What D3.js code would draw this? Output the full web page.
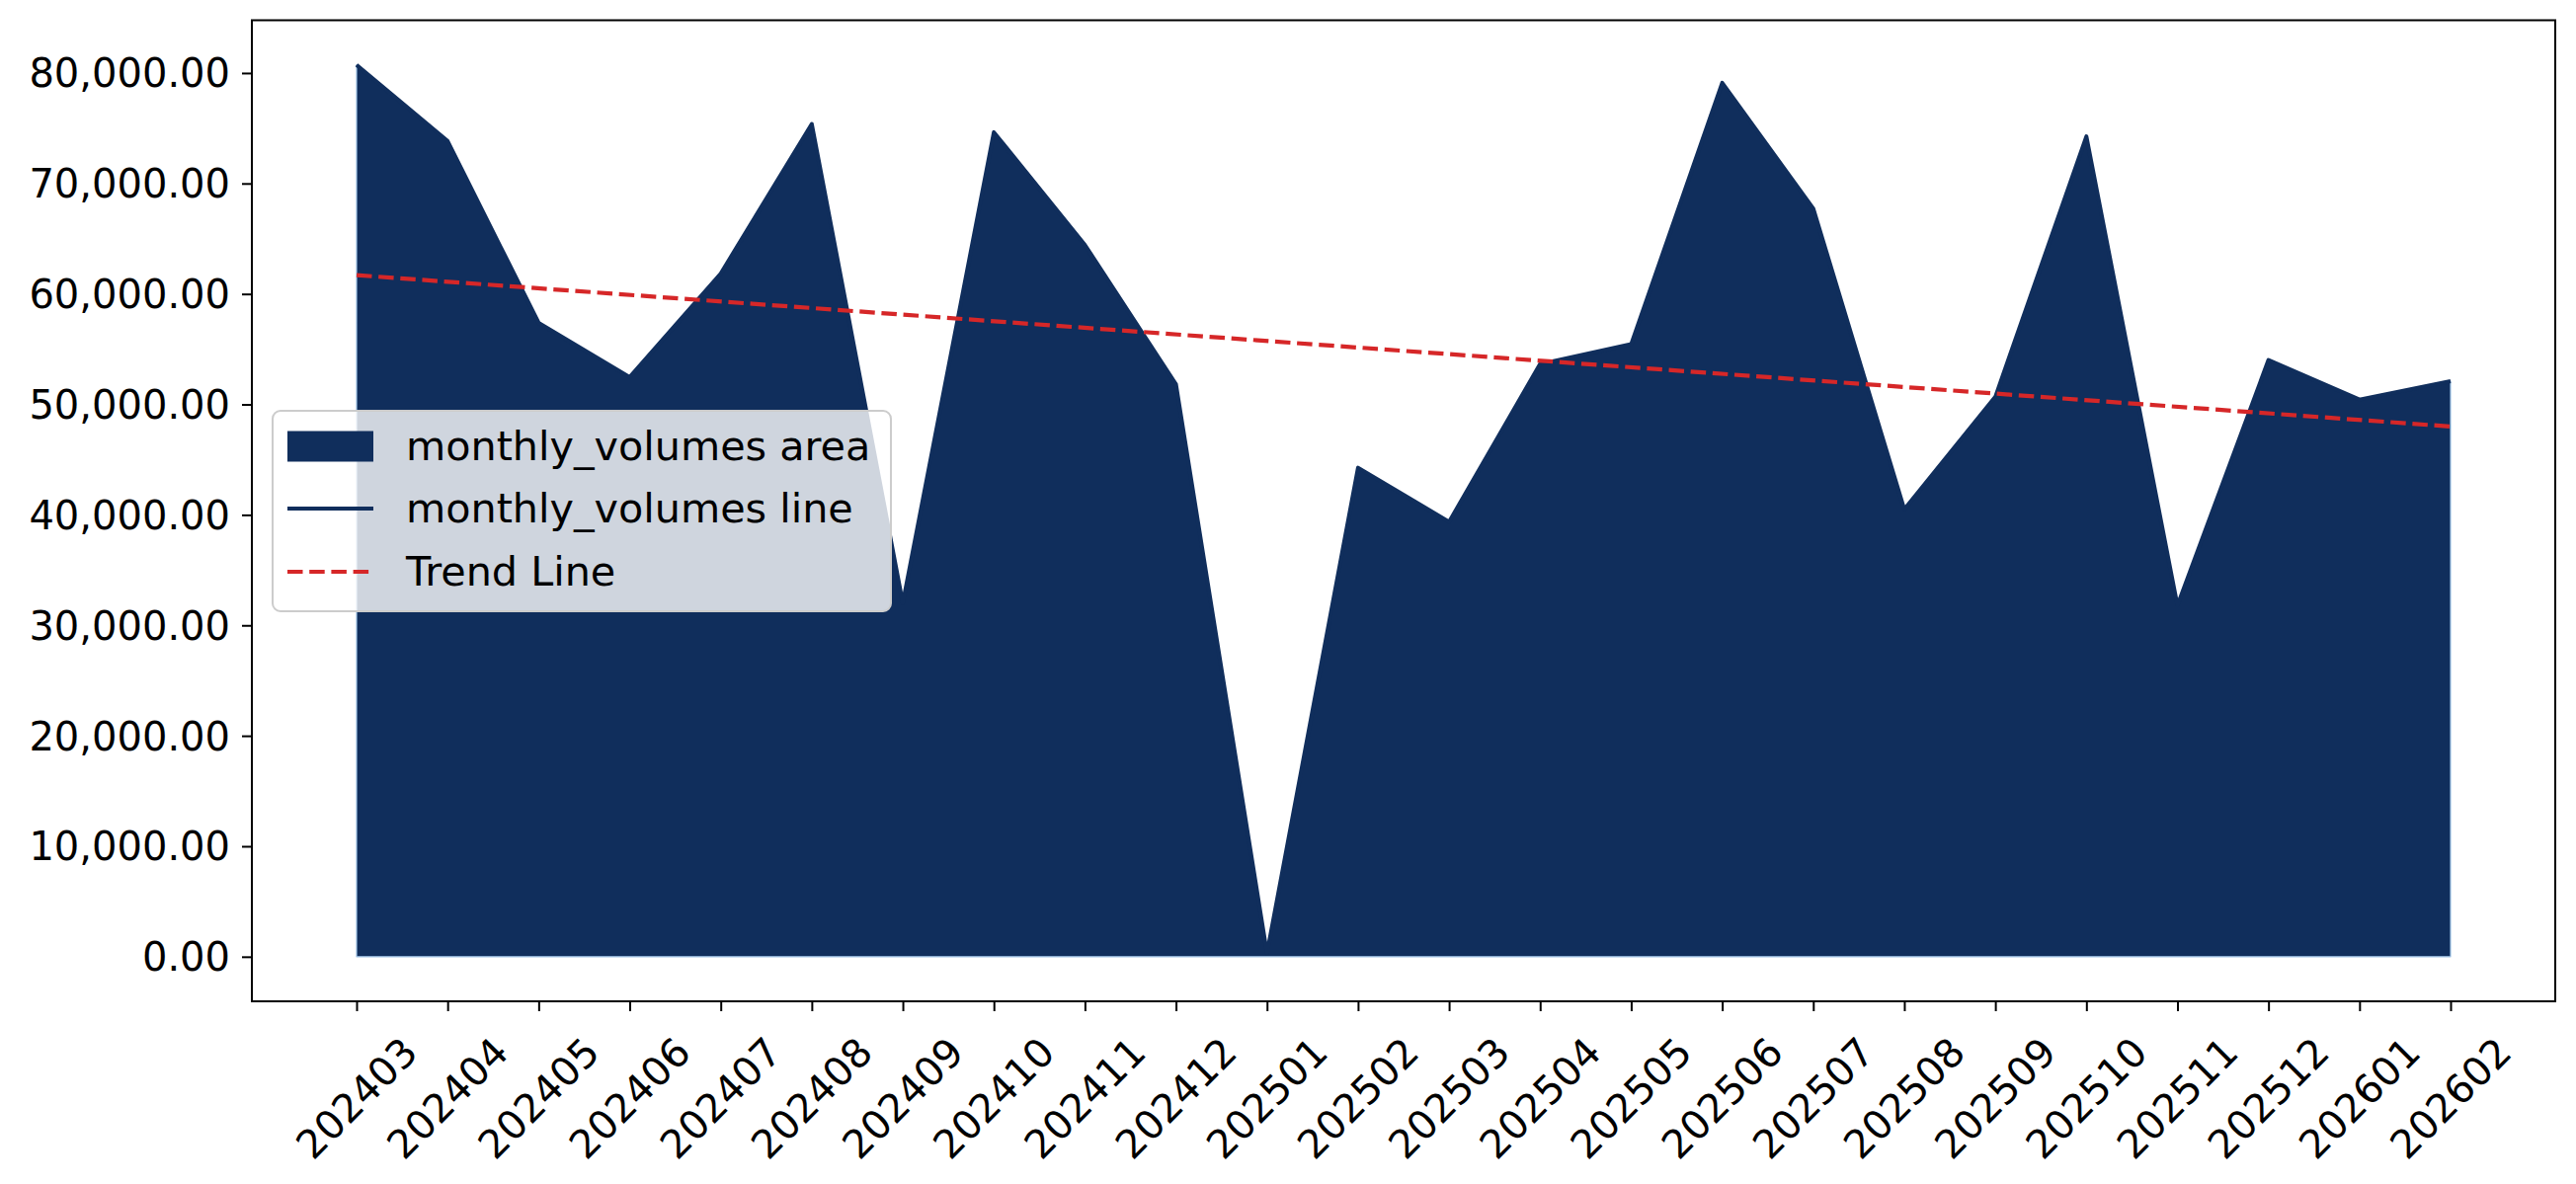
<!DOCTYPE html>
<html lang="en">
  <head>
    <meta charset="UTF-8" />
    <title>monthly_volumes area chart with trend line</title>
    <script src="https://d3js.org/d3.v7.min.js"></script>
    <style>
      body {
        margin: 0;
        padding: 0;
        background-color: #ffffff;
        font-family: "DejaVu Sans", sans-serif;
      }
      .tick-label {
        font-size: 40px;
        fill: #000;
      }
      .legend-label {
        font-size: 41.3px;
        fill: #000;
      }
    </style>
  </head>
  <body>
    <div id="chart"></div>

    <script>
      const width = 2608;
      const height = 1199;

      // month keys on the x axis
      const months = [
        "202403", "202404", "202405", "202406", "202407", "202408",
        "202409", "202410", "202411", "202412", "202501", "202502",
        "202503", "202504", "202505", "202506", "202507", "202508",
        "202509", "202510", "202511", "202512", "202601", "202602",
      ];

      // monthly volumes
      const volumes = [
        80740, 73840, 57380, 52470, 61850, 75390,
        32030, 74640, 64440, 51820, 300, 44270,
        39370, 53660, 55450, 79110, 67740, 40500,
        50690, 74260, 31800, 54020, 50440, 52110,
      ];

      // trend line, first and last month
      const trendMonths = ["202403", "202602"];
      const trendValues = [61700, 48000];

      const yTicks = [0, 10000, 20000, 30000, 40000, 50000, 60000, 70000, 80000];

      const legendLabels = ["monthly_volumes area", "monthly_volumes line", "Trend Line"];

      const navy = "#102e5c";
      const red = "#d62728";

      const margin = { top: 20.5, right: 21, bottom: 185, left: 255 };
      const plotRight = width - margin.right;
      const plotBottom = height - margin.bottom;

      const svg = d3
        .select("#chart")
        .append("svg")
        .attr("width", width)
        .attr("height", height);

      const x = d3
        .scalePoint()
        .domain(months)
        .range([margin.left, plotRight])
        .padding(1.15);

      // 5% padding on both ends like the original
      const yMax = d3.max(volumes);
      const pad = yMax * 0.05;
      const y = d3
        .scaleLinear()
        .domain([-pad, yMax + pad])
        .range([plotBottom, margin.top]);

      // area
      const area = d3
        .area()
        .x((d, i) => x(months[i]))
        .y0(y(0))
        .y1((d) => y(d));

      svg
        .append("path")
        .datum(volumes)
        .attr("d", area)
        .attr("fill", navy)
        .attr("stroke", "#9fc3e6")
        .attr("stroke-width", 1.2)
        .attr("stroke-linejoin", "round");

      // line on top of the area
      const line = d3
        .line()
        .x((d, i) => x(months[i]))
        .y((d) => y(d));

      svg
        .append("path")
        .datum(volumes)
        .attr("d", line)
        .attr("fill", "none")
        .attr("stroke", navy)
        .attr("stroke-width", 4)
        .attr("stroke-linejoin", "round");

      // trend line
      svg
        .append("path")
        .datum(trendValues)
        .attr(
          "d",
          d3
            .line()
            .x((d, i) => x(trendMonths[i]))
            .y((d) => y(d))
        )
        .attr("fill", "none")
        .attr("stroke", red)
        .attr("stroke-width", 4.2)
        .attr("stroke-dasharray", "15.5 6.7");

      // y axis
      const yAxis = svg
        .append("g")
        .attr("transform", `translate(${margin.left},0)`)
        .call(
          d3
            .axisLeft(y)
            .tickValues(yTicks)
            .tickSize(10)
            .tickPadding(12)
            .tickFormat(d3.format(",.2f"))
        );
      yAxis.select(".domain").remove();
      yAxis.selectAll(".tick line").attr("stroke", "#000").attr("stroke-width", 2);
      yAxis
        .selectAll(".tick text")
        .attr("class", "tick-label")
        .attr("font-family", "DejaVu Sans")
        .attr("font-size", 40)
        .attr("dy", "0.35em");

      // x axis
      const xAxis = svg
        .append("g")
        .attr("transform", `translate(0,${plotBottom})`)
        .call(d3.axisBottom(x).tickSize(10).tickFormat(""));
      xAxis.select(".domain").remove();
      xAxis.selectAll(".tick line").attr("stroke", "#000").attr("stroke-width", 2);

      // rotated month labels
      const labelCenterY = 1112;
      svg
        .append("g")
        .selectAll("text")
        .data(months)
        .enter()
        .append("text")
        .attr("class", "tick-label")
        .attr("x", (d) => x(d))
        .attr("y", labelCenterY)
        .attr("text-anchor", "middle")
        .attr("dominant-baseline", "central")
        .attr("transform", (d) => `rotate(-45, ${x(d)}, ${labelCenterY})`)
        .text((d) => d);

      // frame
      svg
        .append("rect")
        .attr("x", margin.left)
        .attr("y", margin.top)
        .attr("width", plotRight - margin.left)
        .attr("height", plotBottom - margin.top)
        .attr("fill", "none")
        .attr("stroke", "#000")
        .attr("stroke-width", 2);

      // legend
      const legend = svg.append("g").attr("transform", "translate(276,416)");

      legend
        .append("rect")
        .attr("width", 626)
        .attr("height", 203)
        .attr("rx", 8)
        .attr("fill", "#ffffff")
        .attr("fill-opacity", 0.8)
        .attr("stroke", "#cccccc")
        .attr("stroke-width", 2);

      const rowY = [36, 99, 163];
      const handleX0 = 15;
      const handleX1 = 102;

      legend
        .append("rect")
        .attr("x", handleX0)
        .attr("y", rowY[0] - 15.5)
        .attr("width", handleX1 - handleX0)
        .attr("height", 31)
        .attr("fill", navy);

      legend
        .append("line")
        .attr("x1", handleX0)
        .attr("x2", handleX1)
        .attr("y1", rowY[1])
        .attr("y2", rowY[1])
        .attr("stroke", navy)
        .attr("stroke-width", 4);

      legend
        .append("line")
        .attr("x1", handleX0)
        .attr("x2", handleX1)
        .attr("y1", rowY[2])
        .attr("y2", rowY[2])
        .attr("stroke", red)
        .attr("stroke-width", 4.2)
        .attr("stroke-dasharray", "15.5 6.7");

      legend
        .selectAll("text")
        .data(legendLabels)
        .enter()
        .append("text")
        .attr("class", "legend-label")
        .attr("x", 135)
        .attr("y", (d, i) => rowY[i] + 14)
        .text((d) => d);
    </script>
  </body>
</html>
